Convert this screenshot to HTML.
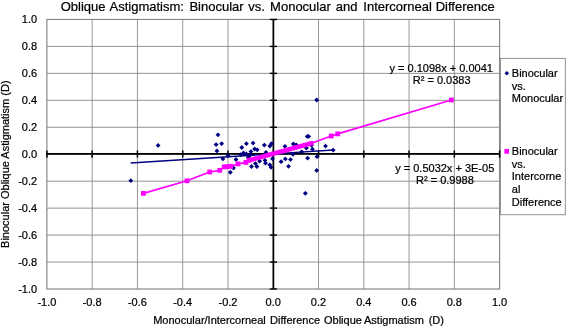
<!DOCTYPE html>
<html><head><meta charset="utf-8"><title>Oblique Astigmatism</title>
<style>
html,body{margin:0;padding:0;background:#fff;}
svg{display:block;font-family:"Liberation Sans",Arial,sans-serif;}
text{stroke:#000;stroke-width:0.22px;}
</style></head><body>
<svg width="567" height="327" viewBox="0 0 567 327">
<rect width="567" height="327" fill="#fff"/>
<rect x="500.4" y="58.4" width="64.95" height="156.3" fill="#fff" stroke="#909090" stroke-width="1"/>
<g stroke-width="0.9" fill="none">
<line x1="92.17" y1="19.45" x2="92.17" y2="289.0" stroke="#8c8c8c"/>
<line x1="46.9" y1="46.41" x2="499.6" y2="46.41" stroke="#868686"/>
<line x1="137.44" y1="19.45" x2="137.44" y2="289.0" stroke="#8c8c8c"/>
<line x1="46.9" y1="73.36" x2="499.6" y2="73.36" stroke="#868686"/>
<line x1="182.71" y1="19.45" x2="182.71" y2="289.0" stroke="#8c8c8c"/>
<line x1="46.9" y1="100.32" x2="499.6" y2="100.32" stroke="#868686"/>
<line x1="227.98" y1="19.45" x2="227.98" y2="289.0" stroke="#8c8c8c"/>
<line x1="46.9" y1="127.27" x2="499.6" y2="127.27" stroke="#868686"/>
<line x1="273.25" y1="19.45" x2="273.25" y2="289.0" stroke="#8c8c8c"/>
<line x1="46.9" y1="154.22" x2="499.6" y2="154.22" stroke="#868686"/>
<line x1="318.52" y1="19.45" x2="318.52" y2="289.0" stroke="#8c8c8c"/>
<line x1="46.9" y1="181.18" x2="499.6" y2="181.18" stroke="#868686"/>
<line x1="363.79" y1="19.45" x2="363.79" y2="289.0" stroke="#8c8c8c"/>
<line x1="46.9" y1="208.13" x2="499.6" y2="208.13" stroke="#868686"/>
<line x1="409.06" y1="19.45" x2="409.06" y2="289.0" stroke="#8c8c8c"/>
<line x1="46.9" y1="235.09" x2="499.6" y2="235.09" stroke="#868686"/>
<line x1="454.33" y1="19.45" x2="454.33" y2="289.0" stroke="#8c8c8c"/>
<line x1="46.9" y1="262.05" x2="499.6" y2="262.05" stroke="#868686"/>
</g>
<rect x="46.9" y="19.45" width="452.70" height="269.55" fill="none" stroke="#808080" stroke-width="1.1"/>
<g stroke="#000" fill="none">
<line x1="46.9" y1="153.95" x2="499.6" y2="153.95" stroke-width="1.75"/>
<line x1="273.40" y1="19.45" x2="273.40" y2="289.0" stroke-width="1.7"/>
<line x1="46.90" y1="150.45" x2="46.90" y2="157.65" stroke-width="1.5"/>
<line x1="269.80" y1="19.45" x2="277.00" y2="19.45" stroke-width="1.4"/>
<line x1="92.17" y1="150.45" x2="92.17" y2="157.65" stroke-width="1.5"/>
<line x1="269.80" y1="46.41" x2="277.00" y2="46.41" stroke-width="1.4"/>
<line x1="137.44" y1="150.45" x2="137.44" y2="157.65" stroke-width="1.5"/>
<line x1="269.80" y1="73.36" x2="277.00" y2="73.36" stroke-width="1.4"/>
<line x1="182.71" y1="150.45" x2="182.71" y2="157.65" stroke-width="1.5"/>
<line x1="269.80" y1="100.32" x2="277.00" y2="100.32" stroke-width="1.4"/>
<line x1="227.98" y1="150.45" x2="227.98" y2="157.65" stroke-width="1.5"/>
<line x1="269.80" y1="127.27" x2="277.00" y2="127.27" stroke-width="1.4"/>
<line x1="273.25" y1="150.45" x2="273.25" y2="157.65" stroke-width="1.5"/>
<line x1="269.80" y1="154.22" x2="277.00" y2="154.22" stroke-width="1.4"/>
<line x1="318.52" y1="150.45" x2="318.52" y2="157.65" stroke-width="1.5"/>
<line x1="269.80" y1="181.18" x2="277.00" y2="181.18" stroke-width="1.4"/>
<line x1="363.79" y1="150.45" x2="363.79" y2="157.65" stroke-width="1.5"/>
<line x1="269.80" y1="208.13" x2="277.00" y2="208.13" stroke-width="1.4"/>
<line x1="409.06" y1="150.45" x2="409.06" y2="157.65" stroke-width="1.5"/>
<line x1="269.80" y1="235.09" x2="277.00" y2="235.09" stroke-width="1.4"/>
<line x1="454.33" y1="150.45" x2="454.33" y2="157.65" stroke-width="1.5"/>
<line x1="269.80" y1="262.05" x2="277.00" y2="262.05" stroke-width="1.4"/>
<line x1="499.60" y1="150.45" x2="499.60" y2="157.65" stroke-width="1.5"/>
<line x1="269.80" y1="289.00" x2="277.00" y2="289.00" stroke-width="1.4"/>
</g>
<g fill="#000080">
<path d="M218.0 132.4L220.4 134.8L218.0 137.2L215.6 134.8Z"/>
<path d="M216.1 142.2L218.5 144.6L216.1 147.0L213.7 144.6Z"/>
<path d="M221.7 141.2L224.1 143.7L221.7 146.1L219.2 143.7Z"/>
<path d="M216.9 148.5L219.3 150.9L216.9 153.3L214.5 150.9Z"/>
<path d="M241.8 145.1L244.2 147.5L241.8 149.9L239.4 147.5Z"/>
<path d="M246.4 141.2L248.8 143.7L246.4 146.1L244.0 143.7Z"/>
<path d="M253.1 140.7L255.5 143.1L253.1 145.5L250.7 143.1Z"/>
<path d="M250.9 149.2L253.3 151.6L250.9 154.0L248.5 151.6Z"/>
<path d="M254.6 146.6L257.1 149.0L254.6 151.4L252.2 149.0Z"/>
<path d="M257.2 147.4L259.6 149.8L257.2 152.2L254.8 149.8Z"/>
<path d="M264.4 142.7L266.8 145.1L264.4 147.5L261.9 145.1Z"/>
<path d="M269.9 143.6L272.3 146.0L269.9 148.4L267.4 146.0Z"/>
<path d="M271.6 141.2L274.1 143.6L271.6 146.0L269.2 143.6Z"/>
<path d="M266.0 149.9L268.4 152.3L266.0 154.8L263.6 152.3Z"/>
<path d="M243.5 150.6L245.9 153.0L243.5 155.4L241.1 153.0Z"/>
<path d="M240.8 152.2L243.2 154.6L240.8 157.0L238.4 154.6Z"/>
<path d="M246.4 151.6L248.8 154.0L246.4 156.4L244.0 154.0Z"/>
<path d="M228.0 153.2L230.4 155.6L228.0 158.0L225.6 155.6Z"/>
<path d="M222.9 156.5L225.3 158.9L222.9 161.3L220.5 158.9Z"/>
<path d="M236.0 157.1L238.4 159.5L236.0 161.9L233.6 159.5Z"/>
<path d="M250.2 152.6L252.6 155.0L250.2 157.4L247.8 155.0Z"/>
<path d="M230.3 169.9L232.8 172.3L230.3 174.8L227.9 172.3Z"/>
<path d="M233.5 165.6L235.9 168.0L233.5 170.4L231.1 168.0Z"/>
<path d="M251.5 164.1L253.9 166.5L251.5 168.9L249.1 166.5Z"/>
<path d="M255.4 161.2L257.9 163.6L255.4 166.0L253.0 163.6Z"/>
<path d="M256.9 164.1L259.3 166.5L256.9 168.9L254.4 166.5Z"/>
<path d="M259.6 158.8L262.1 161.2L259.6 163.6L257.2 161.2Z"/>
<path d="M265.0 157.9L267.4 160.3L265.0 162.8L262.6 160.3Z"/>
<path d="M265.5 160.8L267.9 163.2L265.5 165.6L263.1 163.2Z"/>
<path d="M269.8 162.4L272.2 164.8L269.8 167.2L267.4 164.8Z"/>
<path d="M271.0 164.9L273.4 167.3L271.0 169.8L268.6 167.3Z"/>
<path d="M272.5 156.4L274.9 158.8L272.5 161.2L270.1 158.8Z"/>
<path d="M248.3 154.9L250.8 157.3L248.3 159.8L245.9 157.3Z"/>
<path d="M307.2 134.0L309.6 136.4L307.2 138.8L304.8 136.4Z"/>
<path d="M308.6 134.0L311.1 136.4L308.6 138.8L306.2 136.4Z"/>
<path d="M285.0 143.9L287.4 146.3L285.0 148.8L282.6 146.3Z"/>
<path d="M293.4 141.6L295.8 144.0L293.4 146.4L290.9 144.0Z"/>
<path d="M296.2 142.4L298.6 144.8L296.2 147.2L293.8 144.8Z"/>
<path d="M306.3 145.6L308.8 148.0L306.3 150.4L303.9 148.0Z"/>
<path d="M312.5 146.8L314.9 149.2L312.5 151.6L310.1 149.2Z"/>
<path d="M311.4 142.9L313.8 145.3L311.4 147.8L308.9 145.3Z"/>
<path d="M325.5 143.7L327.9 146.1L325.5 148.5L323.1 146.1Z"/>
<path d="M333.1 147.7L335.6 150.1L333.1 152.5L330.7 150.1Z"/>
<path d="M301.7 149.4L304.1 151.8L301.7 154.2L299.2 151.8Z"/>
<path d="M292.9 151.9L295.3 154.3L292.9 156.8L290.4 154.3Z"/>
<path d="M317.0 154.2L319.4 156.7L317.0 159.1L314.6 156.7Z"/>
<path d="M307.6 155.8L310.1 158.2L307.6 160.6L305.2 158.2Z"/>
<path d="M285.4 156.5L287.8 158.9L285.4 161.3L282.9 158.9Z"/>
<path d="M290.5 157.2L292.9 159.6L290.5 162.0L288.1 159.6Z"/>
<path d="M281.1 159.2L283.6 161.7L281.1 164.1L278.7 161.7Z"/>
<path d="M288.5 163.9L290.9 166.3L288.5 168.8L286.1 166.3Z"/>
<path d="M316.7 168.0L319.1 170.4L316.7 172.8L314.2 170.4Z"/>
<path d="M158.1 143.0L160.5 145.4L158.1 147.8L155.7 145.4Z"/>
<path d="M130.8 178.2L133.2 180.7L130.8 183.1L128.4 180.7Z"/>
<path d="M316.7 97.6L319.1 100.1L316.7 102.5L314.2 100.1Z"/>
<path d="M305.3 190.9L307.8 193.3L305.3 195.8L302.9 193.3Z"/>
</g>
<line x1="130.7" y1="163.0" x2="333.1" y2="150.0" stroke="#000080" stroke-width="1.4"/>
<polyline fill="none" stroke="#ff00ff" stroke-width="1.7" stroke-linejoin="round" points="143.4,193.4 187.0,180.8 209.7,172.0 219.8,170.3 224.2,166.9 227.2,166.7 230.6,166.3 238.0,163.9 245.9,162.4 248.9,160.4 251.5,159.7 253.9,159.0 256.3,158.3 258.7,157.7 261.1,157.0 263.5,156.4 265.9,155.7 268.3,155.1 270.7,154.4 273.1,153.7 275.5,153.1 277.9,152.4 280.3,151.8 282.7,151.1 285.1,150.5 287.5,149.8 289.9,149.1 292.3,148.5 294.7,147.8 297.1,147.2 299.5,146.5 301.9,145.8 304.3,145.2 306.7,144.5 309.1,143.9 311.5,143.2 331.2,136.0 337.7,133.9 451.4,100.0"/>
<g fill="#ff00ff">
<rect x="141.00" y="191.00" width="4.8" height="4.8"/>
<rect x="184.60" y="178.40" width="4.8" height="4.8"/>
<rect x="207.30" y="169.60" width="4.8" height="4.8"/>
<rect x="217.35" y="167.90" width="4.8" height="4.8"/>
<rect x="221.80" y="164.50" width="4.8" height="4.8"/>
<rect x="224.80" y="164.30" width="4.8" height="4.8"/>
<rect x="228.20" y="163.90" width="4.8" height="4.8"/>
<rect x="235.60" y="161.50" width="4.8" height="4.8"/>
<rect x="243.50" y="160.00" width="4.8" height="4.8"/>
<rect x="246.50" y="158.00" width="4.8" height="4.8"/>
<rect x="249.35" y="157.51" width="4.3" height="4.3"/>
<rect x="251.75" y="156.85" width="4.3" height="4.3"/>
<rect x="254.15" y="156.19" width="4.3" height="4.3"/>
<rect x="256.55" y="155.54" width="4.3" height="4.3"/>
<rect x="258.95" y="154.88" width="4.3" height="4.3"/>
<rect x="261.35" y="154.22" width="4.3" height="4.3"/>
<rect x="263.75" y="153.56" width="4.3" height="4.3"/>
<rect x="266.15" y="152.91" width="4.3" height="4.3"/>
<rect x="268.55" y="152.25" width="4.3" height="4.3"/>
<rect x="270.95" y="151.59" width="4.3" height="4.3"/>
<rect x="273.35" y="150.93" width="4.3" height="4.3"/>
<rect x="275.75" y="150.28" width="4.3" height="4.3"/>
<rect x="278.15" y="149.62" width="4.3" height="4.3"/>
<rect x="280.55" y="148.96" width="4.3" height="4.3"/>
<rect x="282.95" y="148.30" width="4.3" height="4.3"/>
<rect x="285.35" y="147.65" width="4.3" height="4.3"/>
<rect x="287.75" y="146.99" width="4.3" height="4.3"/>
<rect x="290.15" y="146.33" width="4.3" height="4.3"/>
<rect x="292.55" y="145.67" width="4.3" height="4.3"/>
<rect x="294.95" y="145.02" width="4.3" height="4.3"/>
<rect x="297.35" y="144.36" width="4.3" height="4.3"/>
<rect x="299.75" y="143.70" width="4.3" height="4.3"/>
<rect x="302.15" y="143.04" width="4.3" height="4.3"/>
<rect x="304.55" y="142.38" width="4.3" height="4.3"/>
<rect x="306.95" y="141.73" width="4.3" height="4.3"/>
<rect x="309.35" y="141.07" width="4.3" height="4.3"/>
<rect x="328.80" y="133.60" width="4.8" height="4.8"/>
<rect x="335.30" y="131.50" width="4.8" height="4.8"/>
<rect x="449.00" y="97.60" width="4.8" height="4.8"/>
</g>
<g font-size="11px" fill="#000">
<text x="46.9" y="305.8" text-anchor="middle">-1.0</text>
<text x="37.1" y="292.7" text-anchor="end">-1.0</text>
<text x="92.2" y="305.8" text-anchor="middle">-0.8</text>
<text x="37.1" y="265.7" text-anchor="end">-0.8</text>
<text x="137.4" y="305.8" text-anchor="middle">-0.6</text>
<text x="37.1" y="238.8" text-anchor="end">-0.6</text>
<text x="182.7" y="305.8" text-anchor="middle">-0.4</text>
<text x="37.1" y="211.8" text-anchor="end">-0.4</text>
<text x="228.0" y="305.8" text-anchor="middle">-0.2</text>
<text x="37.1" y="184.9" text-anchor="end">-0.2</text>
<text x="273.2" y="305.8" text-anchor="middle">0.0</text>
<text x="37.1" y="157.9" text-anchor="end">0.0</text>
<text x="318.5" y="305.8" text-anchor="middle">0.2</text>
<text x="37.1" y="131.0" text-anchor="end">0.2</text>
<text x="363.8" y="305.8" text-anchor="middle">0.4</text>
<text x="37.1" y="104.0" text-anchor="end">0.4</text>
<text x="409.1" y="305.8" text-anchor="middle">0.6</text>
<text x="37.1" y="77.1" text-anchor="end">0.6</text>
<text x="454.3" y="305.8" text-anchor="middle">0.8</text>
<text x="37.1" y="50.1" text-anchor="end">0.8</text>
<text x="499.6" y="305.8" text-anchor="middle">1.0</text>
<text x="37.1" y="23.1" text-anchor="end">1.0</text>
</g>
<text y="11.3" font-size="13px"><tspan x="60.7">Oblique</tspan> <tspan x="109.5">Astigmatism:</tspan> <tspan x="189.4">Binocular</tspan> <tspan x="248.3">vs.</tspan> <tspan x="270.1">Monocular</tspan> <tspan x="335.7">and</tspan> <tspan x="363.3">Intercorneal</tspan> <tspan x="435.7">Difference</tspan></text>
<text y="324.0" font-size="11px"><tspan x="153.2">Monocular/Intercorneal</tspan> <tspan x="270.1">Difference</tspan> <tspan x="324.0">Oblique</tspan> <tspan x="364.0">Astigmatism</tspan> <tspan x="428.7">(D)</tspan></text>
<text transform="translate(9.1 164.2) rotate(-90)" font-size="11px" text-anchor="middle">Binocular Oblique Astigmatism (D)</text>
<g font-size="11px">
<text x="389.5" y="71.5">y = 0.1098x + 0.0041</text>
<text x="412.8" y="83.6">R² = 0.0383</text>
<text x="395.2" y="171.6">y = 0.5032x + 3E-05</text>
<text x="416" y="183.9">R² = 0.9988</text>
</g>
<path d="M506.8 70.9L509.1 73.2L506.8 75.5L504.5 73.2Z" fill="#000080"/>
<rect x="504.4" y="149.0" width="4.6" height="4.7" fill="#ff00ff"/>
<g font-size="11px">
<text x="511.8" y="76.8">Binocular</text>
<text x="511.8" y="89.5">vs.</text>
<text x="511.8" y="102.2">Monocular</text>
<text x="511.8" y="154.9">Binocular</text>
<text x="511.8" y="167.6">vs.</text>
<text x="511.8" y="180.3">Intercorne</text>
<text x="511.8" y="193.0">al</text>
<text x="511.8" y="205.7">Difference</text>
</g>
</svg></body></html>
